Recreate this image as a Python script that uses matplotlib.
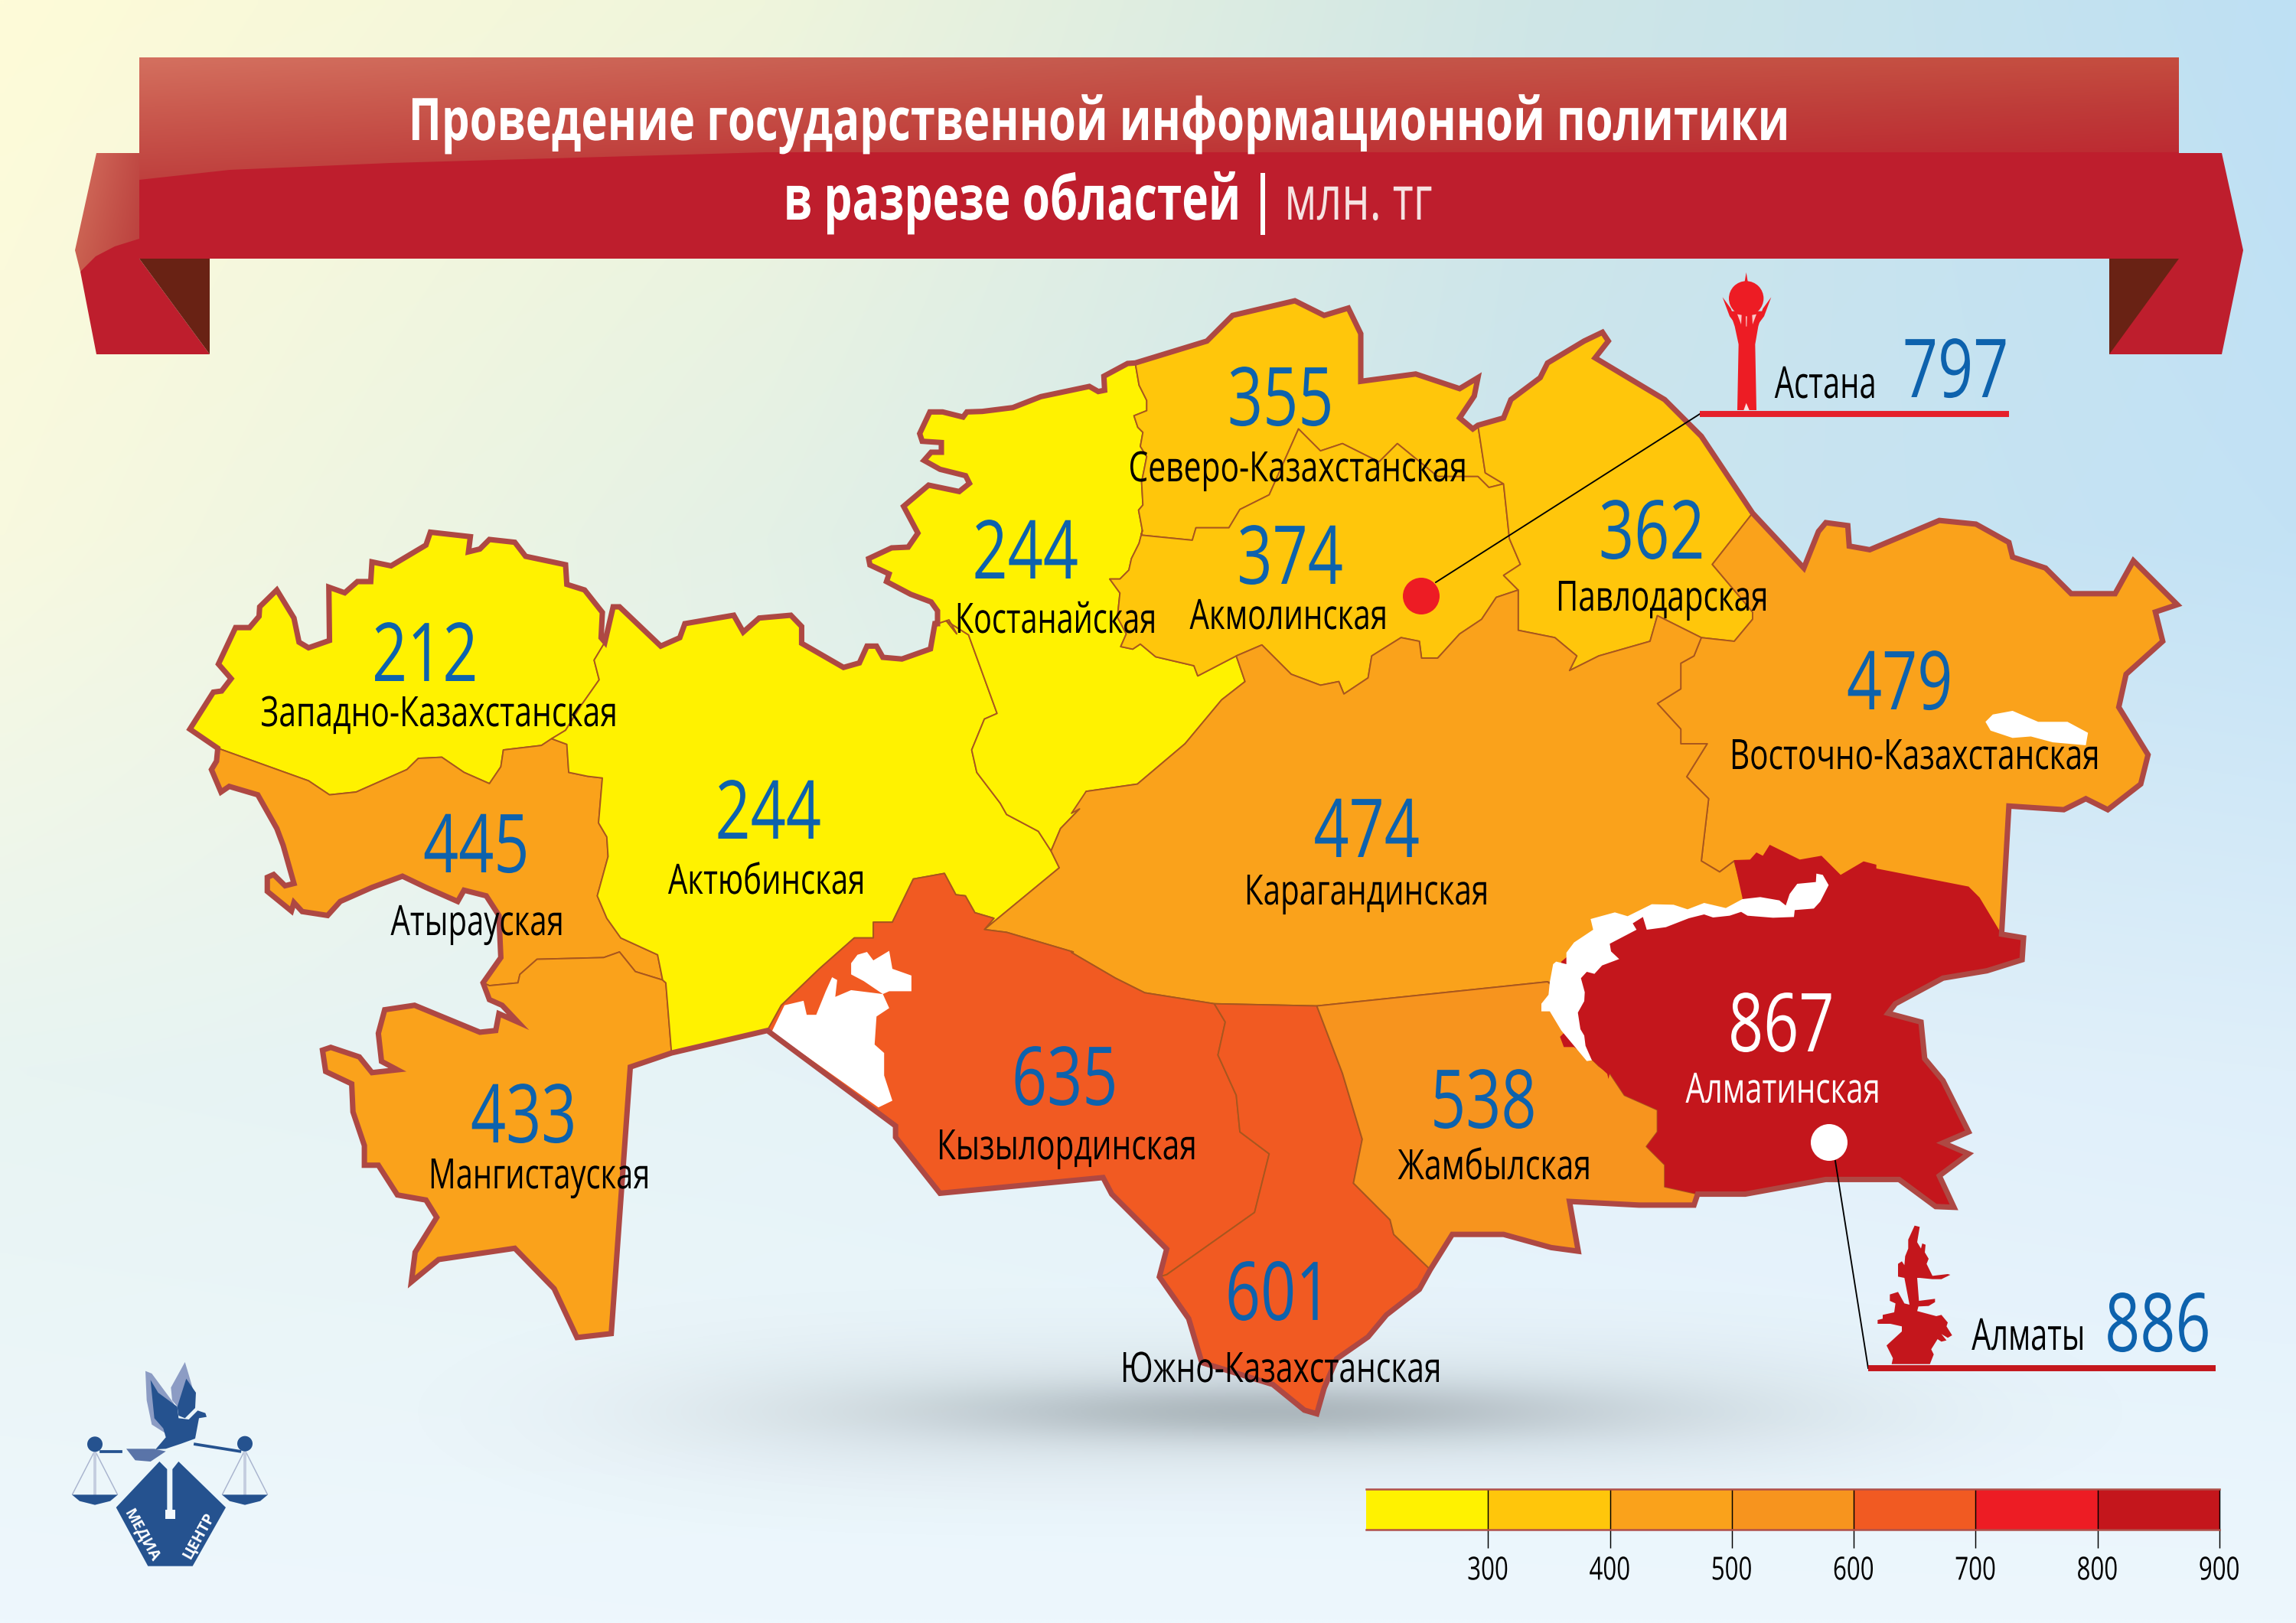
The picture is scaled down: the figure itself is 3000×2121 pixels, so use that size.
import numpy as np
import matplotlib
matplotlib.use("Agg")
import matplotlib.pyplot as plt
from matplotlib import font_manager as fm
from matplotlib.patches import Polygon, Circle
from matplotlib.patheffects import AbstractPathEffect
from matplotlib.text import Text
from matplotlib.transforms import Affine2D, Bbox

names = {f.name for f in fm.fontManager.ttflist}
BASE = next(n for n in ('Liberation Sans Narrow', 'Open Sans', 'Noto Sans', 'Roboto', 'DejaVu Sans') if n in names)
plt.rcParams['font.family'] = [BASE, 'DejaVu Sans']

# ---------- data ----------
REGIONS = ["Западно-Казахстанская", "Атырауская", "Мангистауская", "Актюбинская", "Костанайская",
           "Северо-Казахстанская", "Акмолинская", "Павлодарская", "Восточно-Казахстанская",
           "Карагандинская", "Кызылординская", "Южно-Казахстанская", "Жамбылская", "Алматинская"]
VALUES = [212, 445, 433, 244, 244, 355, 374, 362, 479, 474, 635, 601, 538, 867]
CITIES = ["Астана", "Алматы"]
CITY_VALUES = [797, 886]
BIN_EDGES = [200, 300, 400, 500, 600, 700, 800, 900]
BIN_COLORS = ["#FFF200", "#FFC60B", "#FAA21B", "#F7941E", "#F15A22", "#ED1C24", "#C4161C"]
TITLE_1 = "Проведение государственной информационной политики"
TITLE_2 = "в разрезе областей"
TITLE_SEP = "|"
TITLE_UNIT = "млн. тг"

# ---------- geometry helpers (source picture frames -> picture pixels) ----------
def z1(p): return [(200 + x / 1.206, 650 + y / 1.3635) for x, y in p]
def z2(p): return [(1400 + x / 1.045, 350 + y / 1.045) for x, y in p]
def z6(p): return [(1110 + x / 3, 440 + y / 3) for x, y in p]
def z9(p): return [(2000 + x / 3, 1090 + y / 3) for x, y in p]
def z7(p): return [(2220 + x / 3, 350 + y / 3) for x, y in p]
def z8(p): return [(2430 + x / 3, 1590 + y / 3) for x, y in p]
def z5(p): return [(50 + x / 3, 1750 + y / 3) for x, y in p]

# outer border pieces
S_WKO = z1([(102,447),(58,413),(95,347),(108,345),(123,323),(103,297),(130,232),(152,232),(167,212),(168,195),(195,165),(222,215),(230,258),(245,268),(278,255),(277,160),(302,170),(322,150),(343,150),(345,115),(375,122),(430,85),(437,62),(500,70),(497,97),(515,92),(530,75),(570,80),(587,105),(650,120),(652,155),(680,165),(708,205),(706,250),(712,258)])
S_AKT = z1([(725,195),(735,195),(800,265),(830,250),(838,225),(915,210),(930,240),(955,215),(1005,210),(1022,230),(1022,260),(1088,303),(1113,295),(1125,265),(1140,265),(1150,285),(1180,288),(1225,270),(1232,225)])
S_KOS = z6([(345,1125),(345,1075),(320,1040),(240,1010),(145,960),(155,930),(80,895),(75,870),(165,828),(230,825),(268,770),(212,665),(310,582),(430,607),(470,575),(455,545),(355,520),(292,485),(320,453),(360,453),(360,415),(285,410),(275,380),(315,295),(365,295),(445,315),(460,295),(520,293),(640,278),(750,235),(940,195),(975,215),(1000,210),(997,155),(1090,105),(1120,103)])
S_NKO = z2([(185,100),(220,65),(305,45),(345,65),(378,55),(395,90),(395,155),(470,145),(530,165),(555,150),(550,175),(530,205),(548,220),(555,215)])
S_PAV = z2([(590,205),(600,180),(640,150),(650,130),(700,100),(725,88),(733,100),(715,123),(810,180),(860,230),(930,335)])
S_EKO = z2([(1000,410),(1020,360),(1030,348),(1060,352),(1062,380),(1090,385),(1185,345),(1235,350),(1280,375),(1285,395),(1330,410),(1365,445),(1425,445),(1450,400),(1510,460),(1480,470),(1490,510),(1440,555),(1430,600),(1470,665),(1460,705),(1415,740),(1385,725),(1355,740),(1280,735),(1270,910)])
S_ALM = z2([(1300,915),(1298,945),(1250,960),(1190,970),(1125,1005),(1115,1018),(1160,1030),(1165,1080),(1190,1110),(1225,1180),(1190,1195),(1225,1210),(1185,1240),(1205,1283),(1180,1282),(1130,1245),(1030,1245),(920,1265),(855,1265)])
S_ZHA = z2([(850,1280),(775,1280),(680,1275),(692,1343),(655,1338),(590,1320),(520,1320),(490,1368)])
S_SKO = z2([(475,1395),(430,1430),(405,1460),(362,1490),(345,1530),(335,1565),(318,1560),(275,1525),(178,1495),(160,1435),(120,1378)])
S_KYZ = z2([(130,1340),(55,1265)]) + z1([(1497,1212),(1240,1240),(1170,1140),(1170,1120),(968,950)])
S_MAN = z1([(817,990),(752,1015),(722,1490),(668,1497),(632,1410),(570,1338),(450,1358),(407,1398),(413,1345),(447,1283),(430,1252),(385,1243),(355,1190),(333,1190),(333,1155),(315,1095),(313,1045),(272,1023),(267,985),(280,980),(325,997),(345,1025),(385,1020),(360,1005),(355,955),(365,913),(412,905),(515,953),(540,950),(545,920),(575,935),(550,905),(530,895),(520,865)])
S_ATY = z1([(548,820),(545,745),(525,710),(490,700),(480,720),(430,695),(393,675),(345,695),(295,720),(275,745),(235,738),(222,722),(218,737),(180,702),(180,677),(190,672),(208,692),(222,688),(205,620),(195,590),(165,530),(120,515),(107,525),(92,485),(100,470)])
BORDER = S_WKO + S_AKT + S_KOS + S_NKO + S_PAV + S_EKO + S_ALM + S_ZHA + S_SKO + S_KYZ + S_MAN + S_ATY

# shared inner pieces
I_WKO_S = z1([(695,290),(703,325),(675,370),(650,415),(628,430),(612,442),(552,450),(548,480),(530,510),(490,490),(455,463),(418,465),(400,485),(320,525),(278,530),(245,505)])
I_AKT_E = z1([(1250,220),(1285,245),(1330,385),(1310,395),(1290,450),(1298,490),(1335,545),(1345,565),(1395,595),(1415,630),(1428,660)])
I_KAR_W = z2([(20,715)]) + z1([(1460,555),(1430,590),(1415,630)])
I_NKO_W = z6([(1135,190),(1165,250),(1165,290),(1115,310),(1130,355),(1150,375),(1140,430),(1165,470),(1145,570),(1150,660),(1133,680),(1148,760)])
I_AKM_W = z6([(1135,810),(1105,870),(1095,915),(1060,950),(1020,950),(1060,1005),(1050,1100),(1085,1165),(1063,1215),(1110,1225),(1140,1205),(1200,1255),(1350,1290),(1365,1330)])
I_KAR_N = z2([(225,530),(260,515),(300,555),(340,570),(365,565),(372,582),(405,560),(410,530),(450,505),(475,510),(478,533),(500,533),(530,500),(560,480),(580,450)])
I_AKM_E = z2([(590,295),(598,370),(613,405),(590,420),(610,440)])
I_NKO_S = z2([(95,365),(165,372),(170,355),(215,355),(230,330),(270,310),(310,220),(340,250),(370,240),(420,265),(445,240),(500,285),(555,285),(570,300),(590,295)])
I_PAV_S = z2([(610,495),(660,505),(690,530),(680,550),(720,530),(790,510),(800,475),(860,505)])
I_EKO_W = z2([(850,530),(832,540),(832,575),(800,595),(832,630),(832,650),(868,650),(840,695),(870,725),(860,810),(885,825),(905,810)])

POLYS = {
 "Западно-Казахстанская": S_WKO + I_WKO_S,
 "Атырауская": I_WKO_S[::-1][:-4] + z1([(652,440),(655,490),(685,497),(708,500),(702,580),(715,605),(717,640),(700,710),(715,750),(737,785),(795,815),(803,860),(760,845),(735,810),(710,820),(605,823),(578,850),(575,865),(530,870),(520,865)]) + S_ATY + z1([(102,447)]),
 "Мангистауская": z1([(530,870),(575,865),(578,850),(605,823),(710,820),(735,810),(760,845),(803,860),(808,865)]) + S_MAN,
 "Актюбинская": z1([(712,258)]) + S_AKT + z6([(345,1125),(390,1110),(420,1165)]) + I_AKT_E + z1([(1310,770),(1325,750),(1295,740),(1280,710),(1265,708),(1247,670),(1198,680),(1165,757),(1135,757),(1135,785),(1105,785),(1050,840),(990,905),(968,950),(817,990),(808,865),(803,860),(795,815),(737,785),(715,750),(700,710),(717,640),(715,605),(702,580),(708,500),(685,497),(655,490),(652,440),(628,430),(650,415),(675,370),(703,325),(695,290)]),
 "Костанайская": S_KOS + I_NKO_W + I_AKM_W + z2([(225,530),(237,565),(205,590),(155,650),(90,705)]) + I_KAR_W + I_AKT_E[::-1][2:] + z6([(420,1165),(390,1110)]),
 "Северо-Казахстанская": z6([(1120,103)]) + S_NKO + z2([(565,280)]) + I_NKO_S[::-1] + I_NKO_W[::-1],
 "Акмолинская": I_NKO_S + I_AKM_E + I_KAR_N[::-1] + I_AKM_W[::-1] + z6([(1148,760)]),
 "Павлодарская": z2([(555,215)]) + S_PAV + z2([(875,405),(930,470),(930,480),(905,510),(860,505)]) + I_PAV_S[::-1] + z2([(610,440),(590,420),(613,405),(598,370),(590,295),(565,280)]),
 "Восточно-Казахстанская": z2([(930,335)]) + S_EKO + z2([(1240,885),(1120,860),(1075,850),(1050,860),(1030,840),(950,835),(905,835)]) + I_EKO_W[::-1] + z2([(860,505),(905,510),(930,480),(930,470),(875,405)]),
 "Карагандинская": z2([(0,745),(20,715),(90,705),(155,650),(205,590),(237,565)]) + I_KAR_N + z2([(610,440),(610,495)]) + I_PAV_S[1:] + I_EKO_W + z2([(925,880),(820,915),(730,950),(690,990),(650,975),(335,1008),(195,1005),(100,990),(60,970),(0,935)]) + z1([(1450,810),(1345,775),(1310,770),(1428,660),(1415,630),(1430,590),(1460,555)]),
 "Кызылординская": z1([(968,950),(990,905),(1050,840),(1105,785),(1135,785),(1135,757),(1165,757),(1198,680),(1247,670),(1265,708),(1280,710),(1295,740),(1325,750),(1310,770),(1345,775),(1450,810)]) + z2([(0,935),(60,970),(100,990),(195,1005),(210,1030),(200,1075),(225,1130),(230,1180),(270,1210),(250,1290),(130,1375),(120,1378)]) + S_KYZ,
 "Южно-Казахстанская": z2([(195,1005),(335,1008),(370,1100),(397,1190),(385,1250),(435,1300),(440,1320),(490,1368)]) + S_SKO + z2([(130,1375),(250,1290),(270,1210),(230,1180),(225,1130),(200,1075),(210,1030)]),
 "Жамбылская": z2([(335,1008),(650,975),(680,1000),(690,1060),(720,1090),(735,1100),(755,1130),(800,1150),(800,1180),(785,1200),(810,1225),(810,1255),(855,1265)]) + S_ZHA + z2([(440,1320),(435,1300),(385,1250),(397,1190),(370,1100)]),
 "Алматинская": z9([(797,102),(860,100),(885,72),(910,85),(937,42),(1055,100),(1140,85),(1215,160),(1305,107),(1355,120),(1355,135)]) + z2([(1225,845),(1240,860),(1270,910)]) + S_ALM + z2([(810,1255),(810,1225),(785,1200),(800,1180),(800,1150),(755,1130),(735,1100)]) + z9([(305,960),(300,940),(240,885),(170,835),(130,835),(115,795),(135,775),(100,650),(120,500),(240,400),(420,315),(770,300),(830,270),(830,250)]),
}
ARAL = z1([(975,952),(995,905),(1025,897),(1030,922),(1045,922),(1060,880),(1070,855),(1078,860),(1075,890),(1100,878),(1150,885),(1160,910),(1140,925),(1137,975),(1152,990),(1152,1030),(1165,1075),(1143,1087)])
ARAL2 = z1([(1100,830),(1110,815),(1125,810),(1135,825),(1160,808),(1165,840),(1195,852),(1195,880),(1160,880),(1150,885),(1120,862),(1100,850)])
BALKHASH = z9([(240,887),(220,890),(170,830),(120,770),(75,695),(42,695),(42,665),(70,630),(75,580),(88,510),(100,500),(140,510),(140,465),(170,425),(245,375),(235,333),(330,307),(380,322),(475,275),(560,277),(615,295),(680,270),(765,290),(830,255),(900,247),(975,260),(1000,280),(1015,235),(1045,195),(1118,188),(1120,155),(1145,160),(1168,200),(1135,265),(1110,292),(1035,298),(1032,325),(950,328),(850,320),(825,305),(780,320),(715,327),(680,315),(620,330),(530,365),(455,375),(440,325),(400,350),(415,375),(310,430),(315,460),(347,490),(280,515),(250,548),(220,540),(197,565),(212,620),(210,655),(185,700),(195,765),(210,790),(215,830)])
ZAYSAN = z2([(1248,620),(1258,610),(1285,605),(1320,620),(1360,620),(1388,635),(1385,652),(1340,648),(1310,640),(1285,642),(1255,632)])

# layout: (x centre, baseline) for number and label, and label widths in pixels
NUM_POS = [(556,890),(623,1140),(685,1493),(1004,1096),(1340,756),(1674,556),(1686,763),(2159,730),(2483,927),(1786,1120),(1392,1444),(1673,1725),(1939,1474),(2328,1374)]
LAB_POS = [(574,949),(624,1222),(705,1553),(1002,1168),(1380,827),(1696,629),(1684,822),(2172,798),(2502,1005),(1786,1182),(1394,1515),(1674,1806),(1953,1541),(2330,1441)]
LAB_W = [466,226,289,257,263,442,258,277,483,319,339,419,252,254]

# ---------- figure ----------
fig = plt.figure(figsize=(10, 2121 / 300), dpi=300)
ax = fig.add_axes([0, 0, 1, 1])
renderer = fig.canvas.get_renderer()


class Squeeze(AbstractPathEffect):
    """Draw the glyphs of a text narrower, about the middle of the text."""
    def __init__(self, sx):
        super().__init__()
        self.sx = sx

    def draw_path(self, renderer, gc, tpath, affine, rgbFace=None):
        v = affine.transform(tpath.vertices)
        mid = (v[:, 0].min() + v[:, 0].max()) / 2
        squeeze = Affine2D().translate(-mid, 0).scale(self.sx, 1).translate(mid, 0)
        renderer.draw_path(gc, tpath, affine + squeeze, rgbFace)


class NarrowText(Text):
    """A text whose drawn and reported width is narrowed to a given factor."""
    sx = 1.0

    def get_window_extent(self, renderer=None, dpi=None):
        bb = super().get_window_extent(renderer, dpi)
        m = (bb.x0 + bb.x1) / 2
        return Bbox.from_extents(m + (bb.x0 - m) * self.sx, bb.y0, m + (bb.x1 - m) * self.sx, bb.y1)


def put(x, y, s, fs, color='black', width=None, sx=None, **kw):
    t = NarrowText(x, y, s, color=color, fontsize=fs, ha='center', va='baseline', zorder=9, **kw)
    ax.add_artist(t)
    if width is not None:
        t.sx = 1.0
        sx = width / t.get_window_extent(renderer).width
    t.sx = sx
    t.set_path_effects([Squeeze(sx)])
    return t


def hexrgb(c): return np.array(matplotlib.colors.to_rgb(c))

def smooth(grid, xs, ys, nx=300, ny=212):
    grid = np.array([[hexrgb(c) for c in row] for row in grid])
    X = np.linspace(xs[0], xs[-1], nx); Y = np.linspace(ys[0], ys[-1], ny)
    rows = np.stack([np.stack([np.interp(X, xs, grid[j, :, k]) for k in range(3)], -1) for j in range(len(ys))])
    return np.stack([np.stack([np.interp(Y, ys, rows[:, i, k]) for k in range(3)], -1) for i in range(nx)], 1)

BG = [["#FEFBD8", "#EFF5DC", "#CFE6E6", "#BEE0F4"],
      ["#F8F9DF", "#E4F1E6", "#CBE5EF", "#C3E2F5"],
      ["#E8F4F2", "#E6F3F7", "#E3F1FA", "#DFEFFA"],
      ["#EEF7FD", "#EDF7FD", "#EDF7FD", "#EDF7FD"]]
ax.imshow(smooth(BG, [0, 1000, 2000, 3000], [0, 700, 1400, 2121]), extent=(0, 3000, 2121, 0), aspect='auto', zorder=0, interpolation='bilinear')

# ground shadow
XX, YY = np.meshgrid(np.linspace(0, 3000, 600), np.linspace(1650, 2050, 160))
a = 0.16 * np.exp(-((XX - 1660) / 800) ** 4 - ((YY - 1845) / 85) ** 2) + 0.32 * np.exp(-((XX - 1660) / 420) ** 2 - ((YY - 1845) / 38) ** 2)
sh = np.zeros(a.shape + (4,)); sh[..., :3] = (0.42, 0.46, 0.48); sh[..., 3] = a
ax.imshow(sh, extent=(0, 3000, 2050, 1650), aspect='auto', zorder=1, interpolation='bilinear')

# ribbon
def grad_patch(poly, grid, xs, ys, z):
    patch = Polygon(poly, closed=True, fc='none', ec='none', transform=ax.transData)
    ax.add_patch(patch)
    im = ax.imshow(smooth(grid, xs, ys, 200, 80), extent=(xs[0], xs[-1], ys[-1], ys[0]), aspect='auto', zorder=z, interpolation='bilinear')
    im.set_clip_path(patch)

RIB = "#BE1E2D"
grad_patch([(182,75),(2847,75),(2847,210),(182,240)],
           [["#D4705F", "#C5594D", "#C54D3F"], ["#CB5C50", "#C24840", "#BE3A38"], ["#BE3F3D", "#BC2A30", "#BC202E"]],
           [182, 1500, 2847], [75, 140, 240], 2)
grad_patch([(126,200),(182,200),(182,330),(140,340),(105,355),(98,327)],
           [["#D4705F", "#C04A44"], ["#C9604F", "#BB3F3D"]], [98, 182], [200, 355], 2)
ax.add_patch(Polygon([(182,235),(300,222),(510,213),(1000,199),(2847,199),(2847,338),(182,338)], fc=RIB, ec='none', zorder=3))
ax.add_patch(Polygon([(2847,200),(2903,200),(2931,327),(2903,463),(2756,463),(2756,338),(2847,338)], fc=RIB, ec='none', zorder=3))
ax.add_patch(Polygon([(2756,338),(2847,338),(2756,463)], fc="#692214", ec='none', zorder=4))
ax.add_patch(Polygon([(105,355),(125,335),(150,322),(182,312),(182,338),(274,463),(126,463)], fc=RIB, ec='none', zorder=3))
ax.add_patch(Polygon([(182,338),(274,338),(274,463)], fc="#692214", ec='none', zorder=4))

put(1437, 183, TITLE_1, 18.4, 'white', width=1805, fontweight='bold')
put(1323, 287, TITLE_2, 19.4, 'white', width=597, fontweight='bold')
put(1650, 287, TITLE_SEP, 19.4, 'white', sx=1.0)
put(1775, 287, TITLE_UNIT, 19.4, '#F6E2E2', width=193)

# map
def color_for(v):
    return BIN_COLORS[np.searchsorted(BIN_EDGES, v, side='right') - 1]

for name in REGIONS:
    v = VALUES[REGIONS.index(name)]
    ec = "#A8561E" if name != "Алматинская" else "none"
    ax.add_patch(Polygon(POLYS[name], closed=True, fc=color_for(v), ec=ec, lw=0.45, zorder=5, joinstyle='round'))
for lake in (ARAL, ARAL2, BALKHASH, ZAYSAN):
    ax.add_patch(Polygon(lake, closed=True, fc='white', ec='none', zorder=6))
ax.add_patch(Polygon(BORDER, closed=True, fc='none', ec="#AE4843", lw=1.7, joinstyle='miter', zorder=7))

# labels
NUM_C = "#0D62AD"
NUM_FS = 25.5
NUM_SX = 0.76
LAB_FS = 13.1
for name, v, (nx, ny), (lx, ly), w in zip(REGIONS, VALUES, NUM_POS, LAB_POS, LAB_W):
    dark = name == "Алматинская"
    put(nx, ny, str(v), NUM_FS, 'white' if dark else NUM_C, sx=NUM_SX)
    put(lx, ly, name, LAB_FS, 'white' if dark else 'black', width=w)

# cities
ax.add_patch(Circle((1857, 779), 24, fc="#ED1C24", ec='none', zorder=8))
ax.add_patch(Circle((2390, 1493), 24, fc='white', ec='none', zorder=8))
ax.plot([1876, 2221], [761, 541], color='black', lw=0.45, zorder=8)
ax.plot([2398, 2441], [1517, 1788], color='black', lw=0.45, zorder=8)
ax.plot([2221, 2625], [541, 541], color="#E5202A", lw=1.9, solid_capstyle='butt', zorder=8)
ax.plot([2441, 2895], [1788, 1788], color="#C4161C", lw=1.9, solid_capstyle='butt', zorder=8)
put(2386, 520, CITIES[0], 13.8, width=133)
put(2556, 519, str(CITY_VALUES[0]), NUM_FS, NUM_C, sx=NUM_SX)
put(2651, 1764, CITIES[1], 13.8, width=148)
put(2820, 1766, str(CITY_VALUES[1]), NUM_FS, NUM_C, sx=NUM_SX)

# Astana tower
TR = "#ED1C24"
ax.add_patch(Circle(z7([(185,120)])[0], 68/3, fc=TR, ec='none', zorder=8))
for p in ([(178,60),(185,18),(192,60)],
          [(150,558),(155,300),(140,230),(120,170),(250,170),(232,230),(220,300),(225,558)],
          [(92,115),(125,160),(150,230),(120,190)],
          [(283,115),(250,160),(225,230),(255,190)]):
    ax.add_patch(Polygon(z7(p), fc=TR, ec='none', zorder=8))
for p in ([(150,182),(167,185),(165,222)], [(225,182),(208,185),(210,222)], [(183,190),(188,190),(187,230),(184,230)]):
    ax.add_patch(Polygon(z7(p), fc="#F9C8C8", ec='none', zorder=9))
ax.add_patch(Polygon(z7([(185,530),(175,558),(197,558)]), fc="#F9E0E0", ec='none', zorder=9))

# Almaty monument
MON = z8([(125,578),(130,555),(105,505),(165,450),(165,430),(120,420),(70,420),(70,405),(90,400),(90,385),(135,375),(140,340),(118,330),(118,305),(150,295),(175,340),(195,345),(175,240),(150,235),(150,185),(165,175),(175,190),(178,155),(190,125),(190,90),(215,35),(235,40),(225,100),(240,125),(245,105),(258,110),(255,140),(270,165),(262,185),(285,232),(345,225),(355,228),(320,245),(285,245),(235,240),(225,240),(232,330),(295,322),(295,335),(270,350),(230,352),(225,370),(300,390),(320,385),(345,415),(340,430),(362,465),(345,475),(320,460),(340,485),(320,490),(305,480),(280,520),(290,540),(275,578)])
ax.add_patch(Polygon(MON, fc="#C4161C", ec='none', zorder=8))

# logo
LOGO = "#25528F"
LIGHT = "#8C9CC4"
ax.add_patch(Polygon(z5([(475,480),(305,660),(430,890),(605,890),(735,660),(550,480),(526,510),(526,670),(505,670),(505,510)]), fc=LOGO, ec='none', zorder=8))
ax.add_patch(Polygon(z5([(497,668),(538,668),(538,706),(497,706)]), fc='#F4F9FD', ec='none', zorder=9))
ax.add_patch(Polygon(z5([(420,125),(445,135),(530,250),(550,300),(500,370),(445,335),(425,240)]), fc=LIGHT, ec='none', zorder=8))
ax.add_patch(Polygon(z5([(575,90),(520,190),(525,240),(550,270),(610,210),(590,140)]), fc=LIGHT, ec='none', zorder=8))
ax.add_patch(Polygon(z5([(440,160),(470,210),(545,265),(550,310),(590,315),(625,280),(655,290),(660,305),(630,310),(615,390),(560,410),(500,430),(460,432),(500,385),(490,350),(455,310)]), fc=LOGO, ec='none', zorder=9))
ax.add_patch(Polygon(z5([(580,155),(545,265),(550,300),(575,310),(615,270),(618,210)]), fc=LOGO, ec='none', zorder=9))
ax.add_patch(Polygon(z5([(345,430),(455,430),(500,440),(440,480),(380,475)]), fc="#5A74A8", ec='none', zorder=9))
for cx, cy, ax0, ax1 in ((222, 412, 245, 325), (810, 410, 615, 790)):
    ax.add_patch(Circle(z5([(cx, cy)])[0], 10, fc=LOGO, ec='none', zorder=9))
    ax.plot(*zip(*z5([(ax0, 440 if cx < 500 else 412), (ax1, 440)])), color=LOGO, lw=0.9, zorder=9)
    for ex in (-88, 88):
        ax.plot(*zip(*z5([(cx, cy + 25), (cx + ex, 608)])), color="#A9B4CE", lw=0.35, zorder=8)
    ax.plot(*zip(*z5([(cx, cy + 25), (cx, 608)])), color="#C4CDDF", lw=0.9, zorder=8)
    ax.add_patch(Polygon(z5([(cx - 90, 610), (cx - 60, 635), (cx, 650), (cx + 60, 635), (cx + 90, 610)]), fc=LOGO, ec='none', zorder=9))
ax.text(*z5([(405, 770)])[0], "МЕДИА", color='white', fontsize=4.8, fontweight='bold', rotation=-61, ha='center', va='center', rotation_mode='anchor', zorder=10)
ax.text(*z5([(630, 770)])[0], "ЦЕНТР", color='white', fontsize=4.8, fontweight='bold', rotation=61, ha='center', va='center', rotation_mode='anchor', zorder=10)

ax.set_xlim(0, 3000)
ax.set_ylim(2121, 0)
ax.axis('off')

# colour scale
lg = fig.add_axes([1785 / 3000, 1 - 1999 / 2121, 1115 / 3000, 53 / 2121], zorder=5)
lg.bar(BIN_EDGES[:-1], [1] * len(BIN_COLORS), width=np.diff(BIN_EDGES), align='edge', color=BIN_COLORS, linewidth=0)
lg.set_xlim(BIN_EDGES[0], BIN_EDGES[-1])
lg.set_ylim(0, 1)
lg.vlines(BIN_EDGES[1:], 0, 1, color='black', lw=0.35, clip_on=False)
lg.set_yticks([])
lg.set_xticks(BIN_EDGES[1:], [str(e) for e in BIN_EDGES[1:]], fontsize=10)
lg.tick_params(axis='x', length=5.8, width=0.35, pad=2.2, color='black')
for lab in lg.get_xticklabels():
    lab.set_path_effects([Squeeze(0.75)])
for side in ('left', 'right'):
    lg.spines[side].set_visible(False)
for side in ('top', 'bottom'):
    lg.spines[side].set_color("#B0504A")
    lg.spines[side].set_linewidth(0.6)
lg.patch.set_alpha(0)

fig.savefig("out.png", dpi=300)
